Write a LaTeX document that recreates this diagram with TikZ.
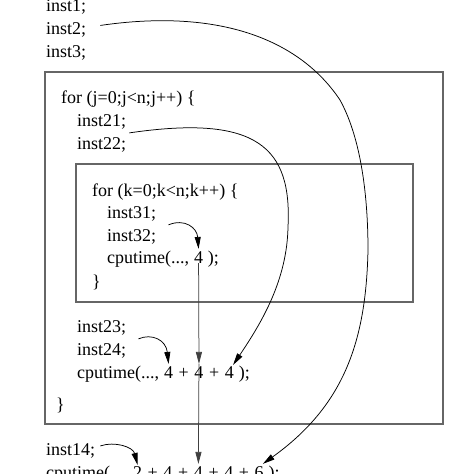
\documentclass[tikz,border=0pt]{standalone}
\usepackage{fontspec}
\setmainfont{Liberation Serif}
\usetikzlibrary{positioning,arrows.meta,calc}
\tikzset{
  code/.style={anchor=base west, inner sep=0pt, font=\fontsize{18}{22}\selectfont},
  plus/.style={anchor=base, inner sep=0pt, font=\fontsize{18}{22}\selectfont},
  loopbox/.style={draw=black!60, line width=1.2pt},
  arr/.style={-{Triangle[length=12pt,width=6pt]}, line width=0.75pt},
}

\begin{document}
\begin{tikzpicture}[x=1pt,y=-1pt]
  \useasboundingbox (0,0) rectangle (474,474);
  \clip (0,0) rectangle (474,474);
  % loop boxes
  \draw[loopbox] (45,72) rectangle (443,424);
  \draw[loopbox] (76,164) rectangle (413,302);
  % outer code
  \node[code] (i1) at (46,11) {inst1;};
  \node[code] (i2) at (46,34) {inst2;};
  \node[code] (i3) at (46,57) {inst3;};
  % j loop
  \node[code] (fj) at (61,103) {for (j=0;j<n;j++) \{};
  \node[code] (i21) at (77,126) {inst21;};
  \node[code] (i22) at (77,149) {inst22;};
  % k loop
  \node[code] (fk) at (92,196) {for (k=0;k<n;k++) \{};
  \node[code] (i31) at (107,218) {inst31;};
  \node[code] (i32) at (107,241) {inst32;};
  \node[code] (c3) at (107,263) {cputime(...,};
  \node[code, base right=4.5pt of c3] (c3a) {4};
  \node[code, base right=4.5pt of c3a] (c3e) {);};
  \node[code] (ek) at (92,287) {\}};
  % rest of j loop
  \node[code] (i23) at (77,332) {inst23;};
  \node[code] (i24) at (77,355) {inst24;};
  \node[code] (c2) at (77,378) {cputime(...,};
  \node[code, base right=4.5pt of c2] (c2a) {4};
  \node[code, base right=21pt of c2a] (c2b) {4};
  \node[code, base right=21pt of c2b] (c2c) {4};
  \node[code, base right=4.5pt of c2c] (c2e) {);};
  \foreach \l/\r in {c2a/c2b, c2b/c2c}
    \node[plus] at ($(\l.base)!.5!(\r.base)$) {+};
  \node[code] (ej) at (56,410) {\}};
  % after the loops
  \node[code] (i14) at (46,455) {inst14;};
  \node[code] (c1) at (46,478) {cputime(...,};
  \node[code, base right=4.5pt of c1] (c1d1) {2};
  \foreach \d [count=\i from 2] in {4,4,4,6} {
    \pgfmathtruncatemacro\j{\i-1}
    \node[code, base right=21pt of c1d\j] (c1d\i) {\d};
    \node[plus] at ($(c1d\j.base)!.5!(c1d\i.base)$) {+};
  }
  \node[code, base right=4.5pt of c1d5] (c1e) {);};
  % time flow
  \draw[arr] ([xshift=14pt,yshift=4pt]i2.east)
    .. controls (220,8) and (300,40) .. (340,100)
    .. controls (362,140) and (368,200) .. (368,250)
    .. controls (366,340) and (345,405) .. ([xshift=-1pt,yshift=2pt]c1d5.north east);
  \draw[arr] ([xshift=3pt,yshift=4pt]i22.north east)
    .. controls (258,114) and (292,148) .. (288,227)
    .. controls (287,280) and (262,322) .. ([xshift=-1pt,yshift=1pt]c2c.north east);
  \draw[arr] ([xshift=12pt,yshift=4pt]i32.north east)
    .. controls (185,218) and (197,228) .. ([yshift=2pt]c3a.north);
  \draw[arr] ([xshift=12pt,yshift=4pt]i24.north east)
    .. controls (152,333) and (166,340) .. ([yshift=2pt]c2a.north);
  \draw[arr] ([xshift=5pt,yshift=-3pt]i14.north east)
    .. controls (115,441) and (133,447) .. ([yshift=1pt]c1d1.north);
  \draw[arr, black!75] (c3a.south) -- ([yshift=2pt]c2b.north);
  \draw[arr, black!75] ([yshift=2pt]c2b.north) -- ([yshift=2pt]c1d3.north);
\end{tikzpicture}
\end{document}
